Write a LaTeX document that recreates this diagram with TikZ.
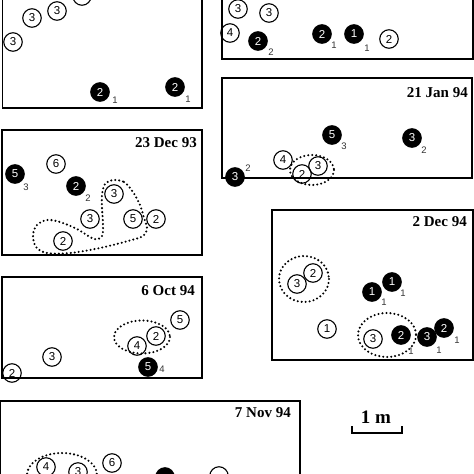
\documentclass[tikz,border=0pt]{standalone}
\usepackage{fontspec}
\setmainfont{Liberation Serif}
\newfontfamily\numfont{Liberation Sans}
\usetikzlibrary{shapes.geometric}
\tikzset{
 wc/.style={circle,draw,line width=1.1pt,minimum size=18.5pt,inner sep=0pt,font=\numfont\fontsize{11.5}{11.5}\selectfont},
 bc/.style={wc,fill=black,text=white},
 sub/.style={font=\numfont\fontsize{9.5}{9.5}\selectfont,inner sep=0pt,text=black!80},
 panel/.style={draw,line width=1.8pt},
 date/.style={font=\bfseries\fontsize{15}{15}\selectfont,anchor=east,inner sep=0pt},
 dots/.style={line width=2.3pt,dash pattern=on 0pt off 4pt,line cap=round},
}
\begin{document}
\begin{tikzpicture}[x=1pt,y=-1pt]
\useasboundingbox (0,0) rectangle (474,474);
\clip (0,0) rectangle (474,474);
% panels
\draw[panel] (2.5,-5) rectangle (202,108);
\draw[panel] (222,-5) rectangle (473,59);
\draw[panel] (222,78) rectangle (472,178);
\draw[panel] (2,130) rectangle (202,255);
\draw[panel] (272,210) rectangle (473,360);
\draw[panel] (2,277) rectangle (202,378);
\draw[panel] (0.5,401) rectangle (300,490);
% panel A
\node[wc] (a1) at (82,-4) {};
\node[wc] (a2) at (57,11) {3};
\node[wc] (a3) at (32,18) {3};
\node[wc] (a4) at (13,42) {3};
\node[bc] (a5) at (100,92) {2};
\node[sub] (a5s) at (115,100) {1};
\node[bc] (a6) at (175,87) {2};
\node[sub] (a6s) at (188,99) {1};
% panel B
\node[wc] (b1) at (238,9) {3};
\node[wc] (b2) at (269,13) {3};
\node[wc] (b3) at (230,33) {4};
\node[bc] (b4) at (258,41) {2};
\node[sub] (b4s) at (271,52) {2};
\node[bc] (b5) at (322,34) {2};
\node[sub] (b5s) at (334,45) {1};
\node[bc] (b6) at (354,34) {1};
\node[sub] (b6s) at (367,48) {1};
\node[wc] (b7) at (389,39) {2};
% panel C
\node[date] (cd) at (468,93) {21 Jan 94};
\draw[dots] (312,170) ellipse [x radius=22,y radius=15];
\node[bc] (c1) at (332,135) {5};
\node[sub] (c1s) at (344,146) {3};
\node[bc] (c2) at (412,138) {3};
\node[sub] (c2s) at (424,150) {2};
\node[bc] (c3) at (235,177) {3};
\node[sub] (c3s) at (248,168) {2};
\node[wc] (c4) at (283,160) {4};
\node[wc] (c5) at (302,174) {2};
\node[wc] (c6) at (318,166) {3};
% panel D
\node[date] (dd) at (197,143) {23 Dec 93};
\draw[dots] plot[smooth cycle,tension=0.55] coordinates {
 (113,180) (124,182) (133,192) (140,205) (144,218) (147,228) (143,236)
 (128,241) (100,248) (70,253) (47,253) (36,247) (33,235) (37,225)
 (47,220) (60,222) (77,229) (94,239) (102,236) (103,225) (102,208)
 (102,195) (105,184)};
\node[bc] (d1) at (15,174) {5};
\node[sub] (d1s) at (26,187) {3};
\node[wc] (d2) at (56,164) {6};
\node[bc] (d3) at (76,186) {2};
\node[sub] (d3s) at (88,198) {2};
\node[wc] (d4) at (114,194) {3};
\node[wc] (d5) at (90,219) {3};
\node[wc] (d6) at (133,219) {5};
\node[wc] (d7) at (156,219) {2};
\node[wc] (d8) at (63,241) {2};
% panel E
\node[date] (ed) at (467,222) {2 Dec 94};
\draw[dots] (304,279) ellipse [x radius=25,y radius=23];
\draw[dots] (387,335) ellipse [x radius=29,y radius=22];
\node[wc] (e1) at (297,284) {3};
\node[wc] (e2) at (313,273) {2};
\node[bc] (e3) at (372,292) {1};
\node[sub] (e3s) at (384,302) {1};
\node[bc] (e4) at (392,282) {1};
\node[sub] (e4s) at (403,293) {1};
\node[wc] (e5) at (327,329) {1};
\node[wc] (e6) at (373,339) {3};
\node[bc] (e7) at (401,335) {2};
\node[sub] (e7s) at (411,351) {1};
\node[bc] (e8) at (427,337) {3};
\node[sub] (e8s) at (439,350) {1};
\node[bc] (e9) at (444,328) {2};
\node[sub] (e9s) at (457,340) {1};
% panel F
\node[date] (fd) at (195,291) {6 Oct 94};
\draw[dots] (142,337) ellipse [x radius=28,y radius=16.5];
\node[wc] (f1) at (180,320) {5};
\node[wc] (f2) at (156,336) {2};
\node[wc] (f3) at (137,346) {4};
\node[bc] (f4) at (148,367) {5};
\node[sub] (f4s) at (162,369) {4};
\node[wc] (f5) at (52,357) {3};
\node[wc] (f6) at (12,373) {2};
% panel G
\node[date] (gd) at (291,413) {7 Nov 94};
\draw[dots] (62,475) ellipse [x radius=35,y radius=22];
\node[wc] (g1) at (46,467) {4};
\node[wc] (g2) at (78,472) {3};
\node[wc] (g3) at (112,463) {6};
\node[bc] (g4) at (165,477) {};
\node[wc] (g5) at (219,476) {};
% scale bar
\coordinate (s1) at (352,426);
\coordinate (s2) at (352,433);
\coordinate (s3) at (402,433);
\coordinate (s4) at (402,426);
\draw[line width=1.5pt] (s1) -- (s2) -- (s3) -- (s4);
\node[font=\bfseries\fontsize{19}{19}\selectfont,inner sep=0pt] (sl) at (376,417) {1 m};
\end{tikzpicture}
\end{document}
